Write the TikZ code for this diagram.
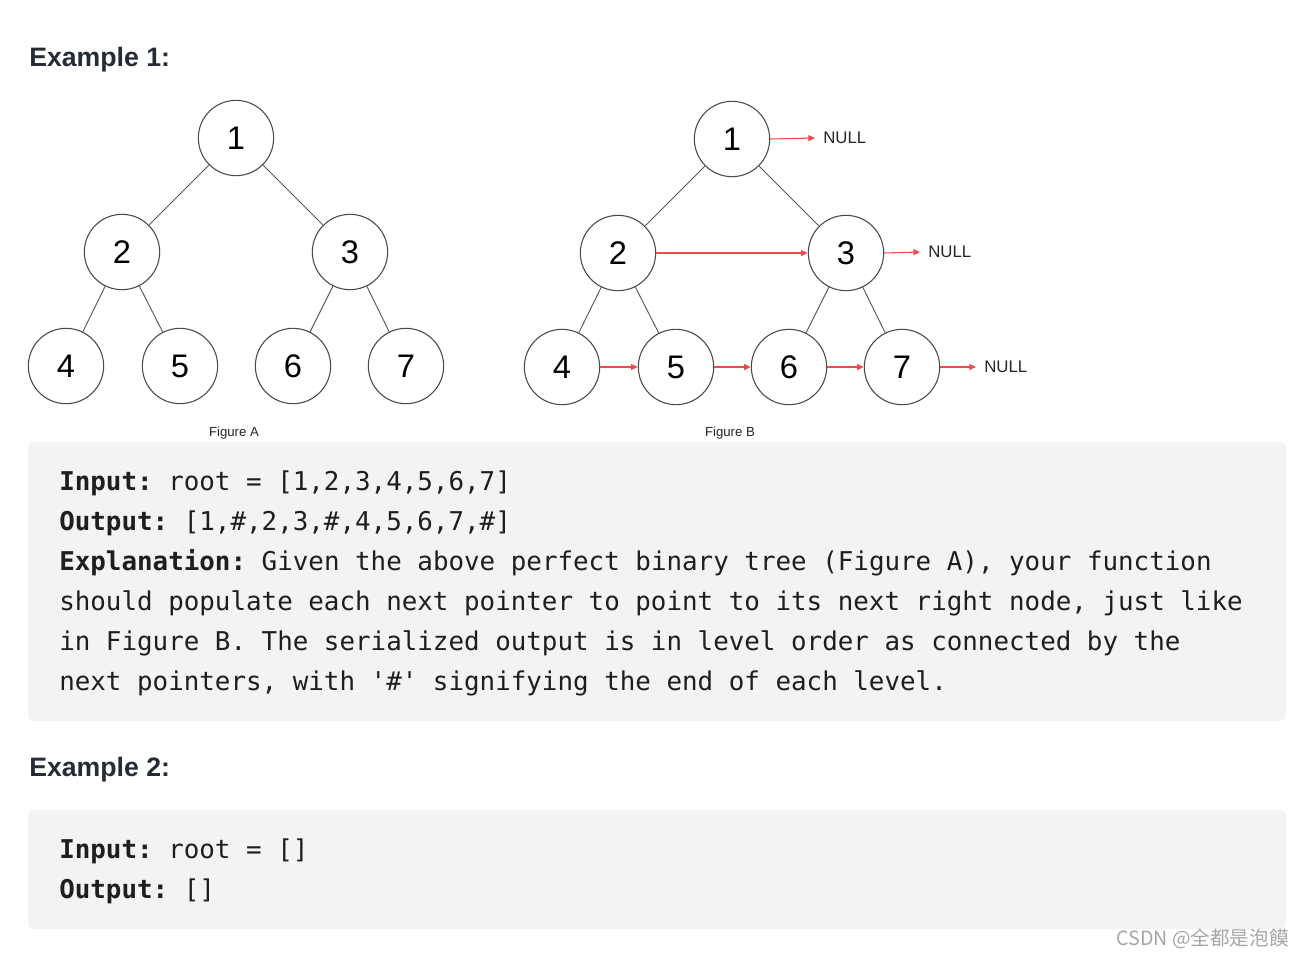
\documentclass[tikz,border=0pt]{standalone}
\usepackage{fontspec}
\setmainfont{Liberation Sans}
\newfontfamily\codefont{DejaVu Sans Mono}
\newfontfamily\cjk{Noto Sans CJK SC}
\usetikzlibrary{arrows.meta}
\definecolor{headcol}{HTML}{262C36}
\definecolor{boxbg}{HTML}{F2F3F5}
\definecolor{nodeline}{HTML}{4A4A4A}
\definecolor{edgecol}{HTML}{5A5A5A}
\definecolor{nextred}{HTML}{F04B4B}
\definecolor{codetext}{HTML}{1E1E1E}
\definecolor{wmark}{HTML}{A6A6A6}
\tikzset{
  tnode/.style={circle, draw=nodeline, line width=0.8pt, minimum size=56.5pt, inner sep=0pt, font=\fontsize{24.5}{24.5}\selectfont},
  tedge/.style={draw=edgecol, line width=0.7pt},
  nextarrow/.style={draw=nextred, line width=0.8pt, -{Triangle[length=5pt,width=4.5pt]}},
  nulltext/.style={anchor=west, inner sep=0pt, font=\fontsize{12.6}{12.6}\selectfont, text=black!85},
  figlabel/.style={inner sep=0pt, font=\fontsize{9.9}{9.9}\selectfont, text=black!85},
  heading/.style={anchor=base west, inner sep=0pt, font=\fontsize{20}{20}\selectfont\bfseries, text=headcol},
  codeline/.style={anchor=base west, inner sep=0pt, font=\codefont\fontsize{19.4}{19.4}\selectfont\frenchspacing, text=codetext},
  codebox/.style={fill=boxbg, draw=none, rounded corners=5pt}
}
\begin{document}
\begin{tikzpicture}[x=0.75pt, y=-0.75pt]
\useasboundingbox[fill=white] (0,0) rectangle (1304,958);

% headings
\node[heading] (h1) at (29,66) {Example 1:};
\node[heading] (h2) at (29,776) {Example 2:};

% Figure A
\node[tnode] (a1) at (236,138) {1};
\node[tnode] (a2) at (122,252) {2};
\node[tnode] (a3) at (350,252) {3};
\node[tnode] (a4) at (66,366) {4};
\node[tnode] (a5) at (180,366) {5};
\node[tnode] (a6) at (293,366) {6};
\node[tnode] (a7) at (406,366) {7};
\draw[tedge] (a1) -- (a2);
\draw[tedge] (a1) -- (a3);
\draw[tedge] (a2) -- (a4);
\draw[tedge] (a2) -- (a5);
\draw[tedge] (a3) -- (a6);
\draw[tedge] (a3) -- (a7);
\node[figlabel] (figa) at (234,433) {Figure A};

% Figure B
\node[tnode] (b1) at (732,139) {1};
\node[tnode] (b2) at (618,253) {2};
\node[tnode] (b3) at (846,253) {3};
\node[tnode] (b4) at (562,367) {4};
\node[tnode] (b5) at (676,367) {5};
\node[tnode] (b6) at (789,367) {6};
\node[tnode] (b7) at (902,367) {7};
\draw[tedge] (b1) -- (b2);
\draw[tedge] (b1) -- (b3);
\draw[tedge] (b2) -- (b4);
\draw[tedge] (b2) -- (b5);
\draw[tedge] (b3) -- (b6);
\draw[tedge] (b3) -- (b7);
\node[figlabel] (figb) at (730,433) {Figure B};

\node[nulltext] (n1) at (823,138) {NULL};
\node[nulltext] (n2) at (928,252) {NULL};
\node[nulltext] (n3) at (984,367) {NULL};

\draw[nextarrow] (b1.east) -- ([xshift=-6]n1.west);
\draw[nextarrow] (b2.east) -- (b3.west);
\draw[nextarrow] (b3.east) -- ([xshift=-6]n2.west);
\draw[nextarrow] (b4.east) -- (b5.west);
\draw[nextarrow] (b5.east) -- (b6.west);
\draw[nextarrow] (b6.east) -- (b7.west);
\draw[nextarrow] (b7.east) -- ([xshift=-6]n3.west);

% Code box 1
\fill[codebox] (28,442) rectangle (1286,721);
\node[codeline] (c1) at (59,490) {{\bfseries Input:} root = [1,2,3,4,5,6,7]};
\node[codeline] (c2) at (59,530) {{\bfseries Output:} [1,\#,2,3,\#,4,5,6,7,\#]};
\node[codeline] (c3) at (59,570) {{\bfseries Explanation:} Given the above perfect binary tree (Figure A), your function};
\node[codeline] (c4) at (59,610) {should populate each next pointer to point to its next right node, just like};
\node[codeline] (c5) at (59,650) {in Figure B. The serialized output is in level order as connected by the};
\node[codeline] (c6) at (59,690) {next pointers, with '\#' signifying the end of each level.};

% Code box 2
\fill[codebox] (28,810) rectangle (1286,929);
\node[codeline] (d1) at (59,858) {{\bfseries Input:} root = []};
\node[codeline] (d2) at (59,898) {{\bfseries Output:} []};

% watermark
\node[anchor=base east, inner sep=0pt, font=\cjk\fontsize{14.7}{14.7}\selectfont, text=wmark] (wm) at (1289,945) {CSDN @全都是泡饃};
\end{tikzpicture}
\end{document}
